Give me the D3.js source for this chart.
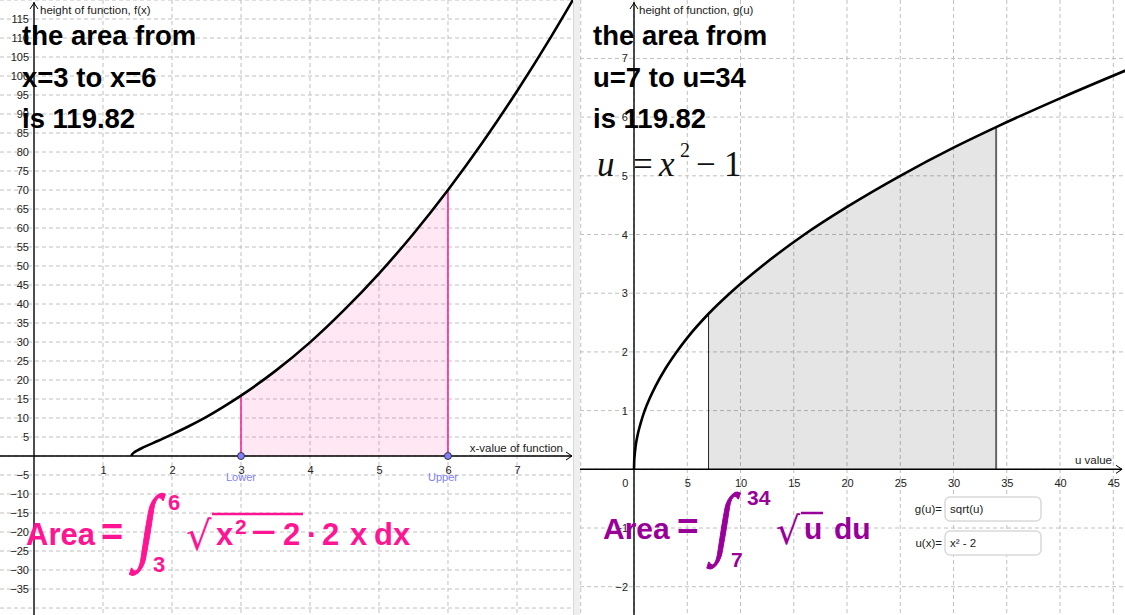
<!DOCTYPE html>
<html>
<head>
<meta charset="utf-8">
<script src="https://cdn.jsdelivr.net/npm/d3@7"></script>
<style>
  html, body { margin: 0; padding: 0; background: #fff; }
  svg { display: block; font-family: "Liberation Sans", Arial, sans-serif; }
</style>
</head>
<body>
<div id="chart"></div>
<script>
// Values.
// Left view: f(x) sampled along the drawn curve.
const fX = [1.414, 1.42, 1.45, 1.5, 1.6, 1.8, 2, 2.25, 2.5, 2.75, 3, 3.5, 4, 4.5, 5, 5.5, 6, 6.5, 7, 7.5, 7.9];
const fY = [0, 0.4, 0.9, 1.5, 2.4, 4.0, 5.7, 7.9, 10.3, 13.0, 15.9, 22.4, 29.9, 38.5, 48.0, 58.5, 70.0, 82.5, 96.0, 110.5, 122.8];
const lowerX = 3;
const upperX = 6;

// Right view: g(u) sampled along the drawn curve.
const gU = [0, 0.02, 0.05, 0.15, 0.3, 0.6, 1, 1.5, 2, 3, 4, 5, 7, 9, 12, 16, 20, 25, 30, 34, 40, 46.5];
const gY = [0, 0.14, 0.22, 0.39, 0.55, 0.77, 1, 1.22, 1.41, 1.73, 2, 2.24, 2.65, 3, 3.46, 4, 4.47, 5, 5.48, 5.83, 6.32, 6.82];
const lowerU = 7;
const upperU = 34;

// Tick labels
const leftXTicks = [1, 2, 3, 4, 5, 6, 7];
const leftYTicks = [-35, -30, -25, -20, -15, -10, -5, 5, 10, 15, 20, 25, 30, 35, 40, 45, 50, 55,
                    60, 65, 70, 75, 80, 85, 90, 95, 100, 105, 110, 115];
const rightXTicks = [0, 5, 10, 15, 20, 25, 30, 35, 40, 45];
const rightYTicks = [-2, -1, 1, 2, 3, 4, 5, 6, 7];

const leftText = ["the area from", "x=3 to x=6", "is 119.82"];
const rightText = ["the area from", "u=7 to u=34", "is 119.82"];

const W = 1125, H = 615;
const LEFT_W = 573, RIGHT_X0 = 580;
const PINK = "#ff1493";
const PURPLE = "#990099";
const GRID = "#c0c0c0";

const svg = d3.select("#chart").append("svg")
    .attr("width", W)
    .attr("height", H)
    .attr("viewBox", `0 0 ${W} ${H}`);

const defs = svg.append("defs");
defs.append("clipPath").attr("id", "clipL")
    .append("rect").attr("x", 0).attr("y", 0).attr("width", LEFT_W).attr("height", H);
defs.append("clipPath").attr("id", "clipR")
    .append("rect").attr("x", RIGHT_X0).attr("y", 0).attr("width", W - RIGHT_X0).attr("height", H);

// ---------- shared helpers ----------
const drawGrid = (g, x, y, xs, ys, x0, x1) => {
    g.append("g").selectAll("line").data(xs).join("line")
        .attr("x1", d => x(d)).attr("x2", d => x(d))
        .attr("y1", 0).attr("y2", H)
        .attr("stroke", GRID).attr("stroke-dasharray", "4,3");
    g.append("g").selectAll("line").data(ys).join("line")
        .attr("x1", x0).attr("x2", x1)
        .attr("y1", d => y(d)).attr("y2", d => y(d))
        .attr("stroke", GRID).attr("stroke-dasharray", "4,3");
};

const drawAxes = (g, x, y, x0, x1) => {
    const ax = x(0), ay = y(0);
    g.append("line").attr("x1", x0).attr("x2", x1 - 1).attr("y1", ay).attr("y2", ay)
        .attr("stroke", "#000").attr("stroke-width", 1.4);
    g.append("line").attr("x1", ax).attr("x2", ax).attr("y1", 2).attr("y2", H)
        .attr("stroke", "#000").attr("stroke-width", 1.4);
    // arrow heads
    g.append("path").attr("d", `M${ax - 4},${9} L${ax},${3} L${ax + 4},${9}`)
        .attr("fill", "none").attr("stroke", "#000").attr("stroke-width", 1);
    g.append("path").attr("d", `M${x1 - 7},${ay - 4} L${x1 - 1},${ay} L${x1 - 7},${ay + 4}`)
        .attr("fill", "none").attr("stroke", "#000").attr("stroke-width", 1);
};

const styleAxis = sel => {
    sel.select(".domain").remove();
    sel.selectAll("text")
        .attr("fill", "#222")
        .style("font-size", "11px")
        .style("font-family", "'Liberation Sans', Arial, sans-serif");
};

const bigText = (g, lines, x0) => {
    g.append("g").selectAll("text").data(lines).join("text")
        .attr("x", x0)
        .attr("y", (d, i) => 45 + i * 41.5)
        .attr("fill", "#000")
        .style("font-weight", "bold")
        .style("font-size", "27.5px")
        .text(d => d);
};

// integral sign as a stretched, slanted serif glyph
const integral = (g, x, y, size, color) => {
    g.append("text")
        .attr("transform", `translate(${x},${y}) scale(1,1.35) skewX(-12)`)
        .attr("stroke", color).attr("stroke-width", 0.9)
        .style("font-family", "'Liberation Serif', 'Times New Roman', serif")
        .style("font-weight", "normal")
        .style("font-size", `${size}px`)
        .text("∫");
};

// ---------- LEFT VIEW ----------
const xL = d3.scaleLinear().domain([-0.4928, 7.812]).range([0, LEFT_W]);
const yL = d3.scaleLinear().domain([-41.84, 120]).range([H, 0]);
const gL = svg.append("g").attr("clip-path", "url(#clipL)");

drawGrid(gL, xL, yL, d3.range(1, 8), d3.range(-40, 121, 5), 0, LEFT_W);

const fData = fX.map((v, i) => ({ x: v, y: fY[i] }));
const fShade = fData.filter(d => d.x >= lowerX && d.x <= upperX);

gL.append("path")
    .attr("d", d3.area().curve(d3.curveMonotoneX)
        .x(d => xL(d.x)).y0(yL(0)).y1(d => yL(d.y))(fShade))
    .attr("fill", PINK).attr("fill-opacity", 0.1);

gL.selectAll(".bound").data([fShade[0], fShade[fShade.length - 1]]).join("line")
    .attr("x1", d => xL(d.x)).attr("x2", d => xL(d.x))
    .attr("y1", yL(0)).attr("y2", d => yL(d.y))
    .attr("stroke", PINK).attr("stroke-width", 1.5);

drawAxes(gL, xL, yL, 0, LEFT_W);

gL.append("g")
    .attr("transform", `translate(0,${yL(0)})`)
    .call(d3.axisBottom(xL).tickValues(leftXTicks).tickSize(0).tickPadding(10).tickFormat(d3.format("d")))
    .call(styleAxis);
gL.append("g")
    .attr("transform", `translate(${xL(0)},0)`)
    .call(d3.axisLeft(yL).tickValues(leftYTicks).tickSize(0).tickPadding(5).tickFormat(d3.format("d")))
    .call(styleAxis);

gL.append("path")
    .attr("d", d3.line().curve(d3.curveMonotoneX).x(d => xL(d.x)).y(d => yL(d.y))(fData))
    .attr("fill", "none").attr("stroke", "#000").attr("stroke-width", 2.6);

// Lower / Upper points
gL.selectAll(".pt").data([{ x: lowerX, name: "Lower" }, { x: upperX, name: "Upper" }]).join("g")
    .each(function(d) {
        const p = d3.select(this);
        p.append("circle").attr("cx", xL(d.x)).attr("cy", yL(0)).attr("r", 3.5)
            .attr("fill", "#7f7fff").attr("stroke", "#333").attr("stroke-width", 1);
        p.append("text").attr("x", xL(d.x) + (d.name === "Upper" ? -5 : 0)).attr("y", yL(0) + 25)
            .attr("text-anchor", "middle").attr("fill", "#7f7fff")
            .style("font-size", "11px").text(d.name);
    });

gL.append("text").attr("x", xL(0) + 6).attr("y", 14)
    .style("font-size", "11.5px").attr("fill", "#222").text("height of function, f(x)");
gL.append("text").attr("x", 563).attr("y", yL(0) - 4).attr("text-anchor", "end")
    .style("font-size", "11.5px").attr("fill", "#222").text("x-value of function");

bigText(gL, leftText, 22);

// pink formula
const fl = gL.append("g").attr("fill", PINK).style("font-weight", "bold");
fl.append("text").attr("x", 26).attr("y", 545).style("font-size", "31px").text("Area");
fl.append("text").attr("x", 101).attr("y", 545).style("font-size", "38px").text("=");
integral(fl, 136, 553, 62, PINK);
fl.append("text").attr("x", 168).attr("y", 510).style("font-size", "22px").text("6");
fl.append("text").attr("x", 153).attr("y", 572).style("font-size", "22px").text("3");
fl.append("text").attr("x", 186).attr("y", 550)
    .style("font-family", "'DejaVu Sans', sans-serif").style("font-weight", "normal")
    .style("font-size", "40px").text("√");
fl.append("line").attr("x1", 212).attr("x2", 303).attr("y1", 514).attr("y2", 514)
    .attr("stroke", PINK).attr("stroke-width", 2.5);
fl.append("text").attr("x", 216).attr("y", 545).style("font-size", "31px").text("x");
fl.append("text").attr("x", 235).attr("y", 534).style("font-size", "21px").text("2");
fl.append("text").attr("x", 251).attr("y", 547).style("font-size", "44px").style("font-weight", "normal").text("−");
fl.append("text").attr("x", 283).attr("y", 545).style("font-size", "31px").text("2");
fl.append("text").attr("x", 307).attr("y", 545).style("font-size", "31px").text("·");
fl.append("text").attr("x", 322).attr("y", 545).style("font-size", "31px").text("2");
fl.append("text").attr("x", 350).attr("y", 545).style("font-size", "31px").text("x");
fl.append("text").attr("x", 374).attr("y", 545).style("font-size", "31px").text("dx");

// ---------- separator ----------
svg.append("rect").attr("x", LEFT_W).attr("y", 0).attr("width", RIGHT_X0 - LEFT_W).attr("height", H)
    .attr("fill", "#efefef");
svg.append("line").attr("x1", LEFT_W + 0.5).attr("x2", LEFT_W + 0.5).attr("y1", 0).attr("y2", H)
    .attr("stroke", "#d8d8d8");

// ---------- RIGHT VIEW ----------
const xR = d3.scaleLinear().domain([-5.07, 46.1]).range([RIGHT_X0, W]);
const yR = d3.scaleLinear().domain([-2.482, 7.995]).range([H, 0]);
const gR = svg.append("g").attr("clip-path", "url(#clipR)");

drawGrid(gR, xR, yR, d3.range(-5, 50, 5), d3.range(-2, 8), RIGHT_X0, W);

const gData = gU.map((v, i) => ({ x: v, y: gY[i] }));
const gShade = gData.filter(d => d.x >= lowerU && d.x <= upperU);

gR.append("path")
    .attr("d", d3.area().curve(d3.curveMonotoneX)
        .x(d => xR(d.x)).y0(yR(0)).y1(d => yR(d.y))(gShade))
    .attr("fill", "#000").attr("fill-opacity", 0.1);
gR.append("line")
    .attr("x1", xR(lowerU)).attr("x2", xR(lowerU))
    .attr("y1", yR(0)).attr("y2", yR(gShade[0].y))
    .attr("stroke", "#222").attr("stroke-width", 1);
gR.append("line")
    .attr("x1", xR(upperU)).attr("x2", xR(upperU))
    .attr("y1", yR(0)).attr("y2", yR(gShade[gShade.length - 1].y))
    .attr("stroke", "#666").attr("stroke-width", 2);

drawAxes(gR, xR, yR, RIGHT_X0, W - 2);

gR.append("g")
    .attr("transform", `translate(0,${yR(0)})`)
    .call(d3.axisBottom(xR).tickValues(rightXTicks).tickSize(0).tickPadding(10).tickFormat(d3.format("d")))
    .call(styleAxis)
    .call(g => g.selectAll(".tick").filter(d => d === 0).select("text")
        .attr("text-anchor", "end").attr("x", -6));
gR.append("g")
    .attr("transform", `translate(${xR(0)},0)`)
    .call(d3.axisLeft(yR).tickValues(rightYTicks).tickSize(0).tickPadding(6).tickFormat(d3.format("d")))
    .call(styleAxis);

gR.append("path")
    .attr("d", d3.line().curve(d3.curveMonotoneX).x(d => xR(d.x)).y(d => yR(d.y))(gData))
    .attr("fill", "none").attr("stroke", "#000").attr("stroke-width", 2.6);

gR.append("text").attr("x", xR(0) + 5).attr("y", 14)
    .style("font-size", "11.5px").attr("fill", "#222").text("height of function, g(u)");
gR.append("text").attr("x", 1112).attr("y", yR(0) - 5).attr("text-anchor", "end")
    .style("font-size", "11.5px").attr("fill", "#222").text("u value");

bigText(gR, rightText, 593);

// u = x^2 - 1
const ue = gR.append("g").attr("fill", "#111")
    .style("font-family", "'Liberation Serif', 'Times New Roman', serif").style("font-size", "35px");
ue.append("text").attr("x", 597).attr("y", 176).style("font-style", "italic").text("u");
ue.append("text").attr("x", 633).attr("y", 176).text("=");
ue.append("text").attr("x", 659).attr("y", 176).style("font-style", "italic").text("x");
ue.append("text").attr("x", 680).attr("y", 157).style("font-size", "20px").text("2");
ue.append("text").attr("x", 696).attr("y", 176).text("−");
ue.append("text").attr("x", 724).attr("y", 176).text("1");

// purple formula
const fr = gR.append("g").attr("fill", PURPLE).style("font-weight", "bold");
fr.append("text").attr("x", 603).attr("y", 539).style("font-size", "30px").text("Area");
fr.append("text").attr("x", 677).attr("y", 539).style("font-size", "37px").text("=");
integral(fr, 713, 548, 58, PURPLE);
fr.append("text").attr("x", 747).attr("y", 505).style("font-size", "21px").text("34");
fr.append("text").attr("x", 731).attr("y", 567).style("font-size", "21px").text("7");
fr.append("text").attr("x", 776).attr("y", 544)
    .style("font-family", "'DejaVu Sans', sans-serif").style("font-weight", "normal")
    .style("font-size", "38px").text("√");
fr.append("line").attr("x1", 801).attr("x2", 823).attr("y1", 513).attr("y2", 513)
    .attr("stroke", PURPLE).attr("stroke-width", 2.5);
fr.append("text").attr("x", 804).attr("y", 539).style("font-size", "30px").text("u");
fr.append("text").attr("x", 834).attr("y", 539).style("font-size", "30px").text("du");

// input boxes
const inputs = [
    { label: "g(u)=", value: "sqrt(u)", y: 497 },
    { label: "u(x)=", value: "x² - 2", y: 531 }
];
const ib = gR.append("g").selectAll("g").data(inputs).join("g");
ib.append("rect").attr("x", 945).attr("y", d => d.y).attr("width", 96).attr("height", 24)
    .attr("rx", 5).attr("fill", "#fff").attr("stroke", "#d9d9d9").attr("stroke-width", 1.5);
ib.append("text").attr("x", 942).attr("y", d => d.y + 16).attr("text-anchor", "end")
    .style("font-size", "11.5px").attr("fill", "#222").text(d => d.label);
ib.append("text").attr("x", 950).attr("y", d => d.y + 16)
    .style("font-size", "11.5px").attr("fill", "#222").text(d => d.value);
</script>
</body>
</html>
